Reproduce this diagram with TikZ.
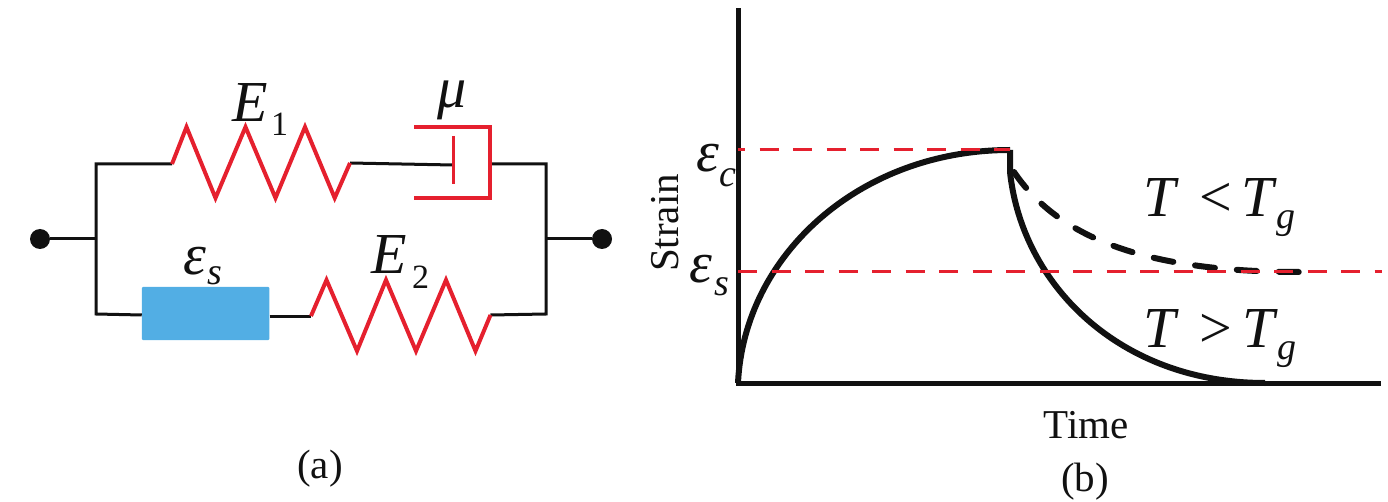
\documentclass[tikz,border=0pt]{standalone}
\usepackage{fontspec}
\setmainfont{Liberation Serif}
\definecolor{rd}{HTML}{E5202E}
\definecolor{bl}{HTML}{52AEE4}
\definecolor{ink}{HTML}{111111}
\tikzset{
  wire/.style={draw=ink,line width=3pt,line join=miter},
  rdline/.style={draw=rd,line width=4pt,line join=miter},
  ax/.style={draw=ink,line width=5pt,line cap=rect},
  ref/.style={draw=rd,line width=3pt,dash pattern=on 19pt off 14.5pt},
  crv/.style={draw=ink,line width=6pt},
  dotn/.style={circle,fill=ink,minimum size=20pt,inner sep=0pt},
  big/.style={inner sep=0pt,font=\fontsize{58}{58}\selectfont\itshape,text=ink},
  sub/.style={inner sep=0pt,font=\fontsize{38}{38}\selectfont\itshape,text=ink},
  subn/.style={inner sep=0pt,font=\fontsize{34}{34}\selectfont,text=ink},
  lab/.style={inner sep=0pt,font=\fontsize{41}{41}\selectfont,text=ink}
}
\begin{document}
\begin{tikzpicture}[x=1pt,y=-1pt]
\useasboundingbox (0,0) rectangle (1388,502);
% left circuit
\node[dotn] (dl) at (40,239) {};
\node[dotn] (dr) at (602,239) {};
\node[fill=bl,draw=none,minimum width=127.5pt,minimum height=53pt,inner sep=0pt,rounded corners=1pt] (block) at (205.7,313.5) {};
\coordinate (jl) at (96,239);
\coordinate (jr) at (546,239);
\coordinate (s1a) at (172,164);
\coordinate (s1b) at (350,163);
\coordinate (pist) at (453,165);
\coordinate (dbk) at (490,164);
\coordinate (s2a) at (311,316);
\coordinate (s2b) at (490.5,315);
\draw[wire] (s1a) -- (96,164) -- (96,314) -- (block.west |- 96,315);
\draw[wire] (dl) -- (jl);
\draw[wire] (dr) -- (jr);
\draw[wire] (dbk) -- (546,164) -- (546,314) -- (s2b);
\draw[wire] (s1b) -- (pist);
\draw[wire] (block.east |- s2a) -- (s2a);
\draw[rdline] (s1a) -- (186.5,127) -- (215.5,198) -- (245.5,127) -- (275.5,198) -- (305,127) -- (334.7,198) -- (s1b);
\draw[rdline] (s2a) -- (326.5,280) -- (357,351) -- (386,280) -- (416,351) -- (446,280) -- (475.5,351) -- (s2b);
\draw[rdline] (414,127) -- (490,127) -- (490,198) -- (414,198);
\draw[draw=rd,line width=3pt] (453,136) -- (453,184);
% labels (a)
\node[big,anchor=base west] (e1) at (232,122) {E};
\node[subn,anchor=base west] (e1s) at (271,136) {1};
\node[big,anchor=base west] (mu) at (437,108) {μ};
\node[big,anchor=base west] (es) at (183,275) {ε};
\node[sub,anchor=base west] (ess) at (207,285) {s};
\node[big,anchor=base west] (e2) at (371,274) {E};
\node[subn,anchor=base west] (e2s) at (412,289) {2};
\node[lab,anchor=base] (la) at (320,478) {(a)};
% axes
\coordinate (o) at (738,383.5);
\coordinate (yt) at (738,11);
\coordinate (xe) at (1378,383.5);
\draw[ax] (yt) -- (o) -- (xe);
% curves
\coordinate (pk) at (1010,150);
\coordinate (dk) at (1010,172);
\coordinate (fe) at (1265,383);
\draw[crv] (738,383) .. controls (744,255) and (860,150) .. (pk);
\draw[crv] (pk) -- (dk) .. controls (1022,285) and (1120,383) .. (fe);
\draw[ink,line width=6pt,line cap=round,dash pattern=on 20pt off 22pt] (1014,172) .. controls (1060,240) and (1150,272) .. (1301,272);
% reference lines
\coordinate (c1) at (738,150);
\coordinate (c2) at (1010,150);
\coordinate (c3) at (738,271.7);
\coordinate (c4) at (1382,271.7);
\draw[ref,dash phase=12pt] (c1) -- (c2);
\draw[ref] (c3) -- (c4);
% labels (b)
\node[big,anchor=base west] (ec) at (696,172) {ε};
\node[sub,anchor=base west] (ecs) at (719,187) {c};
\node[big,anchor=base west] (es2) at (689,283) {ε};
\node[sub,anchor=base west] (es2s) at (714,296) {s};
\node[lab,rotate=90,anchor=center] (strain) at (665,223) {Strain};
\node[lab,anchor=base] (time) at (1086,438) {Time};
\node[lab,anchor=base] (lb) at (1085,491) {(b)};
\node[big,anchor=base west] (t1) at (1143,217) {T};
\node[big,anchor=base west,font=\fontsize{58}{58}\selectfont] (lt) at (1199,217) {<};
\node[big,anchor=base west] (t1g) at (1241,217) {T};
\node[sub,anchor=base west] (g1) at (1276,229) {g};
\node[big,anchor=base west] (t2) at (1143,347) {T};
\node[big,anchor=base west,font=\fontsize{58}{58}\selectfont] (gt) at (1199,347) {>};
\node[big,anchor=base west] (t2g) at (1242,347) {T};
\node[sub,anchor=base west] (g2) at (1277,359) {g};
\end{tikzpicture}
\end{document}
